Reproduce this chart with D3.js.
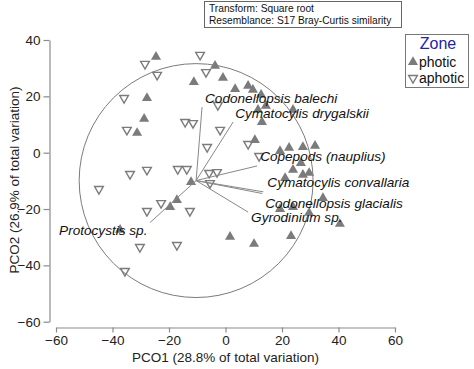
<!DOCTYPE html>
<html>
<head>
<meta charset="utf-8">
<script src="https://cdn.jsdelivr.net/npm/d3@7"></script>
<style>
  body { margin: 0; background: #fff; }
  text { font-family: Arial, "Liberation Sans", sans-serif; }
</style>
</head>
<body>
<div id="chart-area"></div>
<script>

//**************** Data *****************//

// photic samples [PCO1, PCO2]
let photic = [
	[-24.6, 34.0], [-3.7, 30.8], [-0.9, 26.6], [-11.2, 25.1], [-27.8, 19.4],
	[3.4, 22.6], [8.0, 23.7], [9.7, 22.3], [12.6, 20.5], [14.3, 16.6],
	[11.5, 15.2], [12.9, 10.9], [23.9, 15.2], [-28.8, 12.0], [-31.3, 7.0],
	[10.4, 4.5], [-12.2, -10.4], [-17.2, -16.8], [-19.6, -19.3],
	[19.3, 0.6], [22.5, 1.7], [27.4, 2.0], [31.7, 2.4], [26.7, -3.7],
	[23.9, -6.1], [21.1, -9.0], [27.4, -7.9], [29.6, -7.2],
	[19.3, -20.0], [23.9, -19.3], [29.6, -21.4], [34.5, -16.1],
	[40.5, -25.3], [23.2, -29.6], [1.6, -29.9], [10.1, -32.4], [-37.3, -27.4]
];

// aphotic samples [PCO1, PCO2]
let aphotic = [
	[-9.0, 34.7], [-28.5, 31.5], [-24.2, 27.6], [-6.9, 28.6], [-35.9, 19.4],
	[-2.7, 16.9], [-14.3, 10.9], [-11.5, 10.5], [-34.9, 8.1], [-1.9, 8.1],
	[-6.5, 2.0], [8.0, 3.1], [11.9, -1.2], [-16.9, -5.8], [-13.7, -5.8],
	[-5.8, -7.2], [-3.0, -6.9], [-5.5, -10.8], [-12.6, -20.7], [-33.8, -7.6],
	[-27.8, -6.1], [-44.8, -12.9], [-22.8, -17.9], [-27.8, -20.7],
	[-30.3, -33.5], [-17.2, -32.8], [-35.6, -42.0]
];

// correlation vectors (end points) and the circle they start from
let species = ['Codonellopsis balechi', 'Cymatocylis drygalskii', 'Copepods (nauplius)',
	'Cymatocylis convallaria', 'Codonellopsis glacialis', 'Gyrodinium sp.', 'Protocystis sp.'];
let vecX = [-8.3, 2.7, 11.2, 13.4, 13.0, 8.0, -26.7];
let vecY = [16.2, 10.9, -4.7, -13.9, -14.5, -21.1, -24.8];
let circleCenter = [-10.4, -9.9];
let circleRadius = 41.4;

let xTicks = [-60, -40, -20, 0, 20, 40, 60];
let yTicks = [-60, -40, -20, 0, 20, 40];
let zones = ['photic', 'aphotic'];

// label offsets in pixels from the vector tip
let labelOffset = [[3, -4], [2, -4], [3, -5], [4, -5], [3, 14], [3, 10], [-91, 12]];


//**************** Canvas *****************//

let svg = d3.select('#chart-area').append('svg')
	.attr('width', 474)
	.attr('height', 369);

let grey = '#7b7b7b';


//**************** Scales & Axes *****************//

let x = d3.scaleLinear()
	.domain([-60, 60])
	.range([56, 395]);

let y = d3.scaleLinear()
	.domain([-60, 40])
	.range([321.7, 40]);

let xAxisGroup = svg.append('g')
	.attr('class', 'x-axis')
	.attr('transform', 'translate(0, 327.5)')
	.call(d3.axisBottom(x).tickValues(xTicks).tickSize(5).tickSizeOuter(0).tickPadding(3));

let yAxisGroup = svg.append('g')
	.attr('class', 'y-axis')
	.attr('transform', 'translate(49.5, 0)')
	.call(d3.axisLeft(y).tickValues(yTicks).tickSize(6).tickSizeOuter(0).tickPadding(3));

svg.selectAll('.x-axis, .y-axis')
	.attr('font-family', 'Arial, "Liberation Sans", sans-serif')
	.attr('font-size', 13.5);
svg.selectAll('.x-axis path, .y-axis path, .x-axis line, .y-axis line')
	.attr('stroke', '#8a8a8a')
	.attr('stroke-width', 1.2);
svg.selectAll('.x-axis text, .y-axis text').attr('fill', '#222');


//**************** Labels *****************//

svg.append('text')
	.attr('x', 225.5)
	.attr('y', 362)
	.attr('font-size', '13.5px')
	.attr('fill', '#222')
	.attr('text-anchor', 'middle')
	.text('PCO1 (28.8% of total variation)');

svg.append('text')
	.attr('transform', 'translate(19, 180) rotate(-90)')
	.attr('font-size', '13.5px')
	.attr('fill', '#222')
	.attr('text-anchor', 'middle')
	.text('PCO2 (26.9% of total variation)');

// info box top
let info = svg.append('g').attr('transform', 'translate(204, 1)');
info.append('rect')
	.attr('x', 0.5).attr('y', 0.5)
	.attr('width', 197).attr('height', 26)
	.attr('fill', '#fff')
	.attr('stroke', '#666');
info.append('text')
	.attr('x', 5).attr('y', 11)
	.attr('font-size', '10.2px').attr('fill', '#111')
	.text('Transform: Square root');
info.append('text')
	.attr('x', 5).attr('y', 23)
	.attr('font-size', '10.2px').attr('fill', '#111')
	.text('Resemblance: S17 Bray-Curtis similarity');


//**************** Circle & vectors *****************//

let cx = x(circleCenter[0]), cy = y(circleCenter[1]);

svg.append('circle')
	.attr('cx', cx)
	.attr('cy', cy)
	.attr('r', x(circleRadius) - x(0))
	.attr('fill', 'none')
	.attr('stroke', grey)
	.attr('stroke-width', 1);


//**************** Points *****************//

let triUp = d3.symbol().type(d3.symbolTriangle).size(44);
let triOpen = d3.symbol().type(d3.symbolTriangle).size(33);

svg.append('g').selectAll('path')
	.data(aphotic)
	.enter()
	.append('path')
		.attr('d', triOpen)
		.attr('transform', d => 'translate(' + x(d[0]) + ',' + y(d[1]) + ') rotate(180)')
		.attr('fill', 'none')
		.attr('stroke', grey)
		.attr('stroke-width', 1.4);

svg.append('g').selectAll('path')
	.data(photic)
	.enter()
	.append('path')
		.attr('d', triUp)
		.attr('transform', d => 'translate(' + x(d[0]) + ',' + y(d[1]) + ')')
		.attr('fill', grey);

// vectors drawn over points
let vec = svg.append('g').selectAll('g')
	.data(species)
	.enter()
	.append('g');

vec.append('line')
	.attr('x1', cx)
	.attr('y1', cy)
	.attr('x2', (d, i) => x(vecX[i]))
	.attr('y2', (d, i) => y(vecY[i]))
	.attr('stroke', '#888')
	.attr('stroke-width', 1);

vec.append('text')
	.attr('x', (d, i) => x(vecX[i]) + labelOffset[i][0])
	.attr('y', (d, i) => y(vecY[i]) + labelOffset[i][1])
	.attr('font-size', '13.6px')
	.attr('font-style', 'italic')
	.attr('fill', '#111')
	.text(d => d);


//**************** Legend *****************//

let legend = svg.append('g').attr('transform', 'translate(405, 34)');
legend.append('rect')
	.attr('x', 0.5).attr('y', 0.5)
	.attr('width', 63).attr('height', 53)
	.attr('fill', '#fff')
	.attr('stroke', '#777');
legend.append('text')
	.attr('x', 33).attr('y', 15)
	.attr('text-anchor', 'middle')
	.attr('font-size', '16px')
	.attr('fill', '#2323a8')
	.text('Zone');

zones.forEach((z, i) => {
	let row = legend.append('g').attr('transform', 'translate(0, ' + (28 + i * 16) + ')');
	row.append('path')
		.attr('d', i === 0 ? triUp : triOpen)
		.attr('transform', i === 0 ? 'translate(8, 0)' : 'translate(8, 0) rotate(180)')
		.attr('fill', i === 0 ? grey : 'none')
		.attr('stroke', i === 0 ? 'none' : grey)
		.attr('stroke-width', 1.4);
	row.append('text')
		.attr('x', 14).attr('y', 5)
		.attr('font-size', '14px')
		.attr('fill', '#111')
		.text(z);
});

</script>
</body>
</html>
